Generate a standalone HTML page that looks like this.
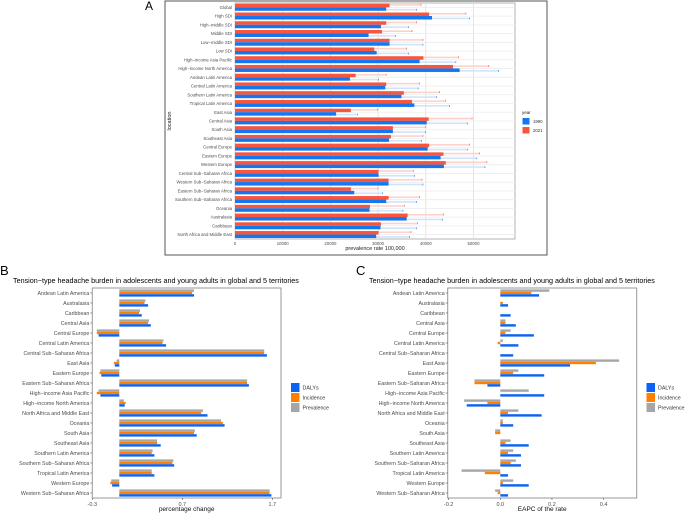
<!DOCTYPE html>
<html><head><meta charset="utf-8"><style>
body{margin:0;background:#fff;}
svg{display:block;font-family:"Liberation Sans",Arial,sans-serif;}
</style></head><body>
<svg id="fig" width="685" height="514" viewBox="0 0 685 514" xmlns="http://www.w3.org/2000/svg">
<text x="145" y="10" font-size="12">A</text>
<rect x="165" y="1" width="382" height="254" fill="none" stroke="#555" stroke-width="1"/>
<text x="0" y="275" font-size="13">B</text>
<text x="13" y="283" font-size="7.2">Tension−type headache burden in adolescents and young adults in global and 5 territories</text>
<text x="356" y="275" font-size="13">C</text>
<text x="369" y="283" font-size="7.2">Tension−type headache burden in adolescents and young adults in global and 5 territories</text>
<g id="ga"></g><g id="gb"></g><g id="gc"></g>
</svg>
<script>
// Panel A data
const aLocations=["Global","High SDI","High−middle SDI","Middle SDI","Low−middle SDI","Low SDI","High−income Asia Pacific","High−income North America","Andean Latin America","Central Latin America","Southern Latin America","Tropical Latin America","East Asia","Central Asia","South Asia","Southeast Asia","Central Europe","Eastern Europe","Western Europe","Central Sub−Saharan Africa","Western Sub−Saharan Africa","Eastern Sub−Saharan Africa","Southern Sub−Saharan Africa","Oceania","Australasia","Caribbean","North Africa and Middle East"];
const a2021=[32400,40700,31700,30800,32400,29200,39500,45700,25300,31700,35400,37100,24300,40600,33100,32700,40700,43700,44200,30100,32200,24300,32200,28300,36200,30600,30100];
const a1990=[31700,41300,30600,28000,32400,29700,38700,47100,24100,31500,34900,37600,21200,40200,33100,32300,40400,43100,43800,30100,32200,25000,31700,28200,36000,30500,29600];
const a2021Upper=[39000,48400,38100,37100,39400,36000,46900,53200,31700,38700,42900,44100,29900,49700,40000,39400,49200,51300,52800,37400,39200,30000,38700,35500,43700,38300,36900];
const a1990Upper=[38100,49200,36400,33700,39400,36400,46300,55300,30100,38400,42300,45000,25700,48800,39900,39100,48800,50700,52400,37600,39400,30900,38100,35200,43500,38100,36600];
const aTicks=[0,10000,20000,30000,40000,50000];
// Panel B data
const bLocations=["Andean Latin America","Australasia","Caribbean","Central Asia","Central Europe","Central Latin America","Central Sub−Saharan Africa","East Asia","Eastern Europe","Eastern Sub−Saharan Africa","High−income Asia Pacific","High−income North America","North Africa and Middle East","Oceania","South Asia","Southeast Asia","Southern Latin America","Southern Sub−Saharan Africa","Tropical Latin America","Western Europe","Western Sub−Saharan Africa"];
const bPrevalence=[0.83,0.29,0.23,0.33,-0.25,0.49,1.61,-0.03,-0.21,1.42,-0.23,0.05,0.93,1.13,0.84,0.42,0.37,0.60,0.36,-0.09,1.67];
const bIncidence=[0.81,0.28,0.22,0.32,-0.25,0.48,1.61,-0.06,-0.22,1.42,-0.25,0.07,0.91,1.15,0.83,0.42,0.36,0.59,0.36,-0.10,1.67];
const bDALYs=[0.83,0.32,0.25,0.35,-0.23,0.52,1.64,-0.05,-0.20,1.44,-0.21,0.06,0.98,1.17,0.86,0.46,0.39,0.61,0.39,-0.08,1.69];
const bTicks=[-0.3,0.7,1.7];
// Panel C data
const cPrevalence=[0.19,0,0,0.02,0.04,0.01,0,0.46,0.07,-0.10,0.11,-0.14,0.07,0.01,-0.02,0.04,0.05,0.06,-0.15,0.05,-0.02];
const cIncidence=[0.12,0.01,0,0.02,0.02,-0.01,0,0.37,0.05,-0.10,0,-0.05,0.03,0.01,-0.02,0.02,0.03,0.04,-0.06,0.01,-0.01];
const cDALYs=[0.15,0.03,0.04,0.06,0.13,0.07,0.05,0.27,0.17,-0.05,0.17,-0.13,0.16,0.05,0,0.11,0.08,0.08,0.03,0.11,0.03];
const cTicks=[-0.2,0.0,0.2,0.4];
const cTickLabels=["-0.2","0.0","0.2","0.4"];

const NS="http://www.w3.org/2000/svg";
function mk(parent,tag,attrs,text){const e=document.createElementNS(NS,tag);for(const k in attrs)e.setAttribute(k,attrs[k]);if(text!==undefined)e.textContent=text;parent.appendChild(e);return e;}

// ---------- Panel A ----------
(function(){
const g=document.getElementById('ga');
const L=235,R=515,T=3,B=239;
const xs=v=>L+(v/10000)*47.7;
const rowH=(B-T)/aLocations.length;
const yc=i=>T+rowH*(i+0.5);
const bg=mk(g,'rect',{x:L,y:T,width:R-L,height:B-T,fill:'#fff',stroke:'#b3b3b3','stroke-width':1});


aTicks.forEach(t=>{
 const gl=mk(g,'line',{x1:xs(t),x2:xs(t),y1:T,y2:B,stroke:'#dedede','stroke-width':0.8});
 
 
 const tl=mk(g,'text',{x:xs(t),y:B+6,'font-size':4.3,'text-anchor':'middle',fill:'#4d4d4d'},String(t));
 
 
});
aLocations.forEach((loc,i)=>{
 const y=yc(i);
 const gl=mk(g,'line',{x1:L,x2:R,y1:y,y2:y,stroke:'#ececec','stroke-width':0.8});
 
 
 const lab=mk(g,'text',{x:L-3,y:y+1.5,'font-size':4.3,'text-anchor':'end',fill:'#4d4d4d'},loc);
 
 
 const e2=mk(g,'rect',{x:xs(a2021[i]),y:y-3.2,width:xs(a2021Upper[i])-xs(a2021[i]),height:1.6,fill:'#fcd3cc'});
 
 
 const e1=mk(g,'rect',{x:xs(a1990[i]),y:y+1.5,width:xs(a1990Upper[i])-xs(a1990[i]),height:1.6,fill:'#cfe4fb'});
 
 
 const r2=mk(g,'rect',{x:L,y:y-3.6,width:xs(a2021[i])-L,height:3.5,fill:'#f8553f'});
 
 
 const r1=mk(g,'rect',{x:L,y:y-0.1,width:xs(a1990[i])-L,height:3.5,fill:'#1477f0'});
 
 
 const c2=mk(g,'line',{x1:xs(a2021Upper[i]),x2:xs(a2021Upper[i]),y1:y-3.6,y2:y-1.6,stroke:'#f8553f','stroke-width':0.6});
 
 
 const c1=mk(g,'line',{x1:xs(a1990Upper[i]),x2:xs(a1990Upper[i]),y1:y+1.5,y2:y+3.3,stroke:'#1477f0','stroke-width':0.6});
 
 
});
const xt=mk(g,'text',{x:375,y:250,'font-size':5.5,'text-anchor':'middle',fill:'#222'},'prevalence rate 100,000');


const yt=mk(g,'text',{x:171,y:121,'font-size':5.5,'text-anchor':'middle',fill:'#222',transform:'rotate(-90 171 121)'},'location');


const lt=mk(g,'text',{x:522,y:114,'font-size':4.5,fill:'#222'},'year');


[['1990','#1477f0',118],['2021','#f8553f',127]].forEach(([n,c,y])=>{
 const s=mk(g,'rect',{x:522.5,y:y,width:7,height:6.5,fill:c});
 
 
 const t=mk(g,'text',{x:533,y:y+5,'font-size':4.3,fill:'#333'},n);
 
 
});
})();

// ---------- Panels B & C ----------
function drawBC(gid,L,R,x0,unit,prev,inc,dal,ticks,tickLabels,xtitle,legX,prefix){
const g=document.getElementById(gid);
const T=288,B=498;
const xs=v=>x0+v*unit;
const rowH=(B-T)/bLocations.length;
const frame=mk(g,'rect',{x:L,y:T,width:R-L,height:B-T,fill:'#fff',stroke:'#9a9a9a','stroke-width':1});


bLocations.forEach((loc,i)=>{
 const y=T+rowH*(i+0.5);
 const tk=mk(g,'line',{x1:L-2,x2:L,y1:y,y2:y,stroke:'#555','stroke-width':0.6});
 
 
 const lab=mk(g,'text',{x:L-3,y:y+2,'font-size':5.3,'text-anchor':'end',fill:'#4d4d4d'},loc);
 
 
 [[prev,'#a6a6a6',-3.6,'bar-prevalence'],[inc,'#ff8000',-1.2,'bar-incidence'],[dal,'#0b62f4',1.2,'bar-dalys']].forEach(([arr,c,dy,nm])=>{
  const v=arr[i];
  const r=mk(g,'rect',{x:Math.min(xs(0),xs(v)),y:y+dy,width:Math.abs(xs(v)-xs(0)),height:2.4,fill:c});
  
  
 });
});
ticks.forEach((t,k)=>{
 const tk=mk(g,'line',{x1:xs(t),x2:xs(t),y1:B,y2:B+2,stroke:'#555','stroke-width':0.6});
 
 
 const tl=mk(g,'text',{x:xs(t),y:B+8,'font-size':5.5,'text-anchor':'middle',fill:'#4d4d4d'},tickLabels[k]);
 
 
});
const xt=mk(g,'text',{x:(L+R)/2,y:511,'font-size':6.5,'text-anchor':'middle',fill:'#111'},xtitle);


[['DALYs','#0b62f4',383],['Incidence','#ff8000',393],['Prevalence','#a6a6a6',403]].forEach(([n,c,y])=>{
 const s=mk(g,'rect',{x:legX,y:y,width:8.5,height:9,fill:c});
 
 
 const t=mk(g,'text',{x:legX+11.5,y:y+6.5,'font-size':5.3,fill:'#333'},n);
 
 
});
}
drawBC('gb',92.3,281,119.3,90,bPrevalence,bIncidence,bDALYs,bTicks,bTicks.map(String),'percentage change',291,'panel-b');
drawBC('gc',447.7,636.7,500.3,258.3,cPrevalence,cIncidence,cDALYs,cTicks,cTickLabels,'EAPC of the rate',646.5,'panel-c');
</script>
</body></html>
